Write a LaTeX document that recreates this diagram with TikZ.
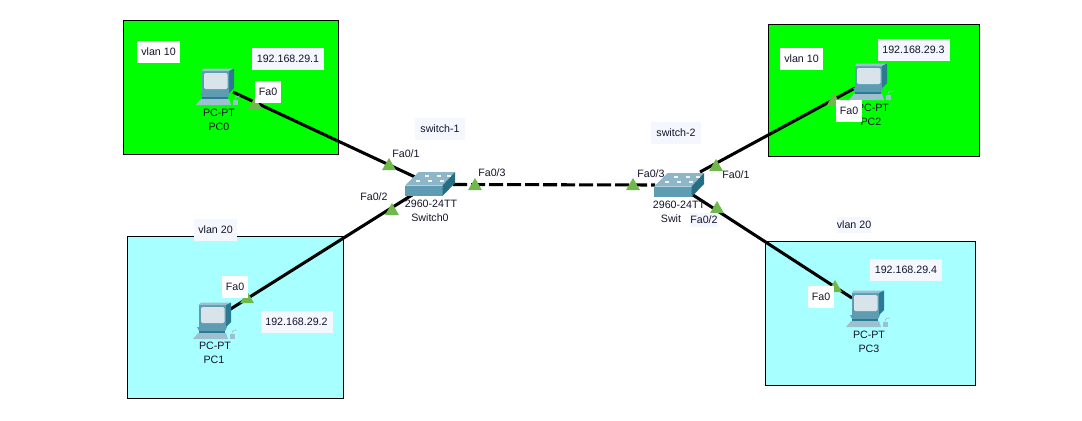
\documentclass[tikz,border=0pt]{standalone}
\usepackage{fontspec}
\setmainfont{Liberation Sans}
\usetikzlibrary{shapes.geometric}
\definecolor{vgreen}{HTML}{00FF00}
\definecolor{vcyan}{HTML}{A8FFFF}
\definecolor{tri}{HTML}{70B84C}
\definecolor{lbl}{HTML}{F5F7FF}
\definecolor{ink}{HTML}{14142A}
\definecolor{front}{HTML}{5E9CB4}
\definecolor{darkside}{HTML}{2A7A93}
\definecolor{lightface}{HTML}{9CC0CF}
\definecolor{screen}{HTML}{D8E4EA}
\tikzset{
  x=0.75pt,y=-0.75pt,
  every node/.style={font=\fontsize{8}{10}\selectfont,text=ink,inner sep=0pt},
  zone/.style={draw=black,line width=0.75pt},
  link/.style={draw=black,line width=2.3pt},
  trunk/.style={draw=black,line width=2.3pt,dash pattern=on 10.5pt off 3pt},
  port/.style={regular polygon,regular polygon sides=3,fill=tri,minimum size=12pt},
  whitelab/.style={fill=white,minimum height=16.5pt},
  bluelab/.style={fill=lbl,minimum height=16.5pt},
  pc/.pic={
    \fill[front] (5.7,3) rectangle (33,25);
    \fill[lightface] (5.7,3) -- (8,0.5) -- (38,0.5) -- (33,3) -- cycle;
    \fill[darkside] (33,3) -- (38,0.5) -- (38,20) -- (33,25) -- cycle;
    \fill[screen,rounded corners=1pt] (8,5) rectangle (31.5,21);
    \fill[front] (4,25) -- (34,25) -- (32,29) -- (6,29) -- cycle;
    \fill[darkside] (6,29) rectangle (32,31);
    \fill[lightface] (0,37) -- (35,37) -- (33,31) -- (5,31) -- cycle;
    \fill[lightface] (37,31.5) rectangle (42,37);
    \draw[lightface,line width=0.5pt] (39,31.5) .. controls (39,28) and (42,28) .. (44,28);
  },
  sw/.pic={
    \fill[lightface!75!front] (0,13.5) -- (13.5,0) -- (50,0) -- (37.5,13.5) -- cycle;
    \fill[front] (0,13.5) rectangle (37.5,24);
    \fill[darkside!90!black] (37.5,13.5) -- (50,0) -- (50,11) -- (37.5,24) -- cycle;
    \foreach \a/\b in {13/9,25/9,37/9,22/4,34/4,44/4}
      \fill[white!85!lightface] (\a-2,\b-0.8) rectangle (\a+2,\b+0.8);
  }
}
\begin{document}
\begin{tikzpicture}
\useasboundingbox[fill=white] (0,0) rectangle (1082,421);
% zones
\node[zone,fill=vgreen,minimum width=161.25pt,minimum height=100.5pt] (zoneA) at (230.5,87) {};
\node[zone,fill=vcyan,minimum width=162pt,minimum height=121.5pt] (zoneB) at (235,317) {};
\node[zone,fill=vgreen,minimum width=158.25pt,minimum height=99pt] (zoneC) at (873.5,90) {};
\node[zone,fill=vcyan,minimum width=157.5pt,minimum height=108pt] (zoneD) at (870,313) {};
% anchors
\coordinate (pc0) at (233,92);
\coordinate (pc1) at (229,310);
\coordinate (pc2) at (855,88);
\coordinate (pc3) at (852,298);
\coordinate (s1a) at (415,177);
\coordinate (s1b) at (412,195);
\coordinate (s1c) at (453,184.5);
\coordinate (s2a) at (700,172);
\coordinate (s2b) at (693,195);
\coordinate (s2c) at (655,185);
% links
\draw[link] (pc0) -- (s1a);
\draw[link] (pc1) -- (s1b);
\draw[link] (pc2) -- (s2a);
\draw[link] (pc3) -- (s2b);
\draw[trunk] (s1c) -- (s2c);
% port markers
\node[port] (t1) at (255,105) {};
\node[port] (t2) at (247,299) {};
\node[port] (t3) at (834,101) {};
\node[port] (t4) at (835,288) {};
\node[port] (t5) at (389,166) {};
\node[port] (t6) at (392,211) {};
\node[port] (t7) at (475,186) {};
\node[port] (t8) at (633,186) {};
\node[port] (t9) at (716,167) {};
\node[port] (t10) at (717,209) {};
% devices
\pic at (196,68) {pc};
\pic at (193,302) {pc};
\pic at (849,63) {pc};
\pic at (846,290) {pc};
\pic at (405,172) {sw};
\pic at (654,173) {sw};
% device texts
\node (a1) at (219,113) {PC-PT};
\node (a2) at (219,127) {PC0};
\node (b1) at (215,346) {PC-PT};
\node (b2) at (214,360) {PC1};
\node (c1) at (873,108) {PC-PT};
\node (c2) at (871,122) {PC2};
\node (d1) at (869,335) {PC-PT};
\node (d2) at (869,349) {PC3};
\node (e1) at (431,204) {2960-24TT};
\node (e2) at (430,218) {Switch0};
\node (f1) at (679,205) {2960-24TT};
\node (f2) at (671,219) {Swit};
% port texts
\node (p1) at (406,154) {Fa0/1};
\node (p2) at (374,197) {Fa0/2};
\node (p3) at (492,173) {Fa0/3};
\node (p4) at (651,174) {Fa0/3};
\node (p5) at (736,175) {Fa0/1};
\node[fill=lbl,minimum height=11pt] (p6) at (704,220) {Fa0/2};
% notes
\node[whitelab,minimum width=32pt] (v1) at (158.5,52) {vlan 10};
\node[whitelab,minimum width=32pt] (v2) at (801.5,59) {vlan 10};
\node[bluelab,minimum width=32pt] (v3) at (215.5,230) {vlan 20};
\node[bluelab,minimum width=26pt,minimum height=12pt] (v4) at (854,225) {vlan 20};
\node[bluelab,minimum width=37.5pt] (s1) at (440,129) {switch-1};
\node[bluelab,minimum width=37.5pt] (s2) at (676,133) {switch-2};
\node[bluelab,minimum width=54pt] (i1) at (288,59) {192.168.29.1};
\node[bluelab,minimum width=54pt] (i2) at (296.5,322) {192.168.29.2};
\node[bluelab,minimum width=54pt] (i3) at (913.5,50) {192.168.29.3};
\node[bluelab,minimum width=54pt] (i4) at (906,270) {192.168.29.4};
\node[whitelab,minimum width=19.5pt] (f01) at (268,92) {Fa0};
\node[whitelab,minimum width=19.5pt] (f02) at (235,287) {Fa0};
\node[whitelab,minimum width=19.5pt] (f03) at (849,111) {Fa0};
\node[whitelab,minimum width=19.5pt] (f04) at (821,297) {Fa0};
\end{tikzpicture}
\end{document}
